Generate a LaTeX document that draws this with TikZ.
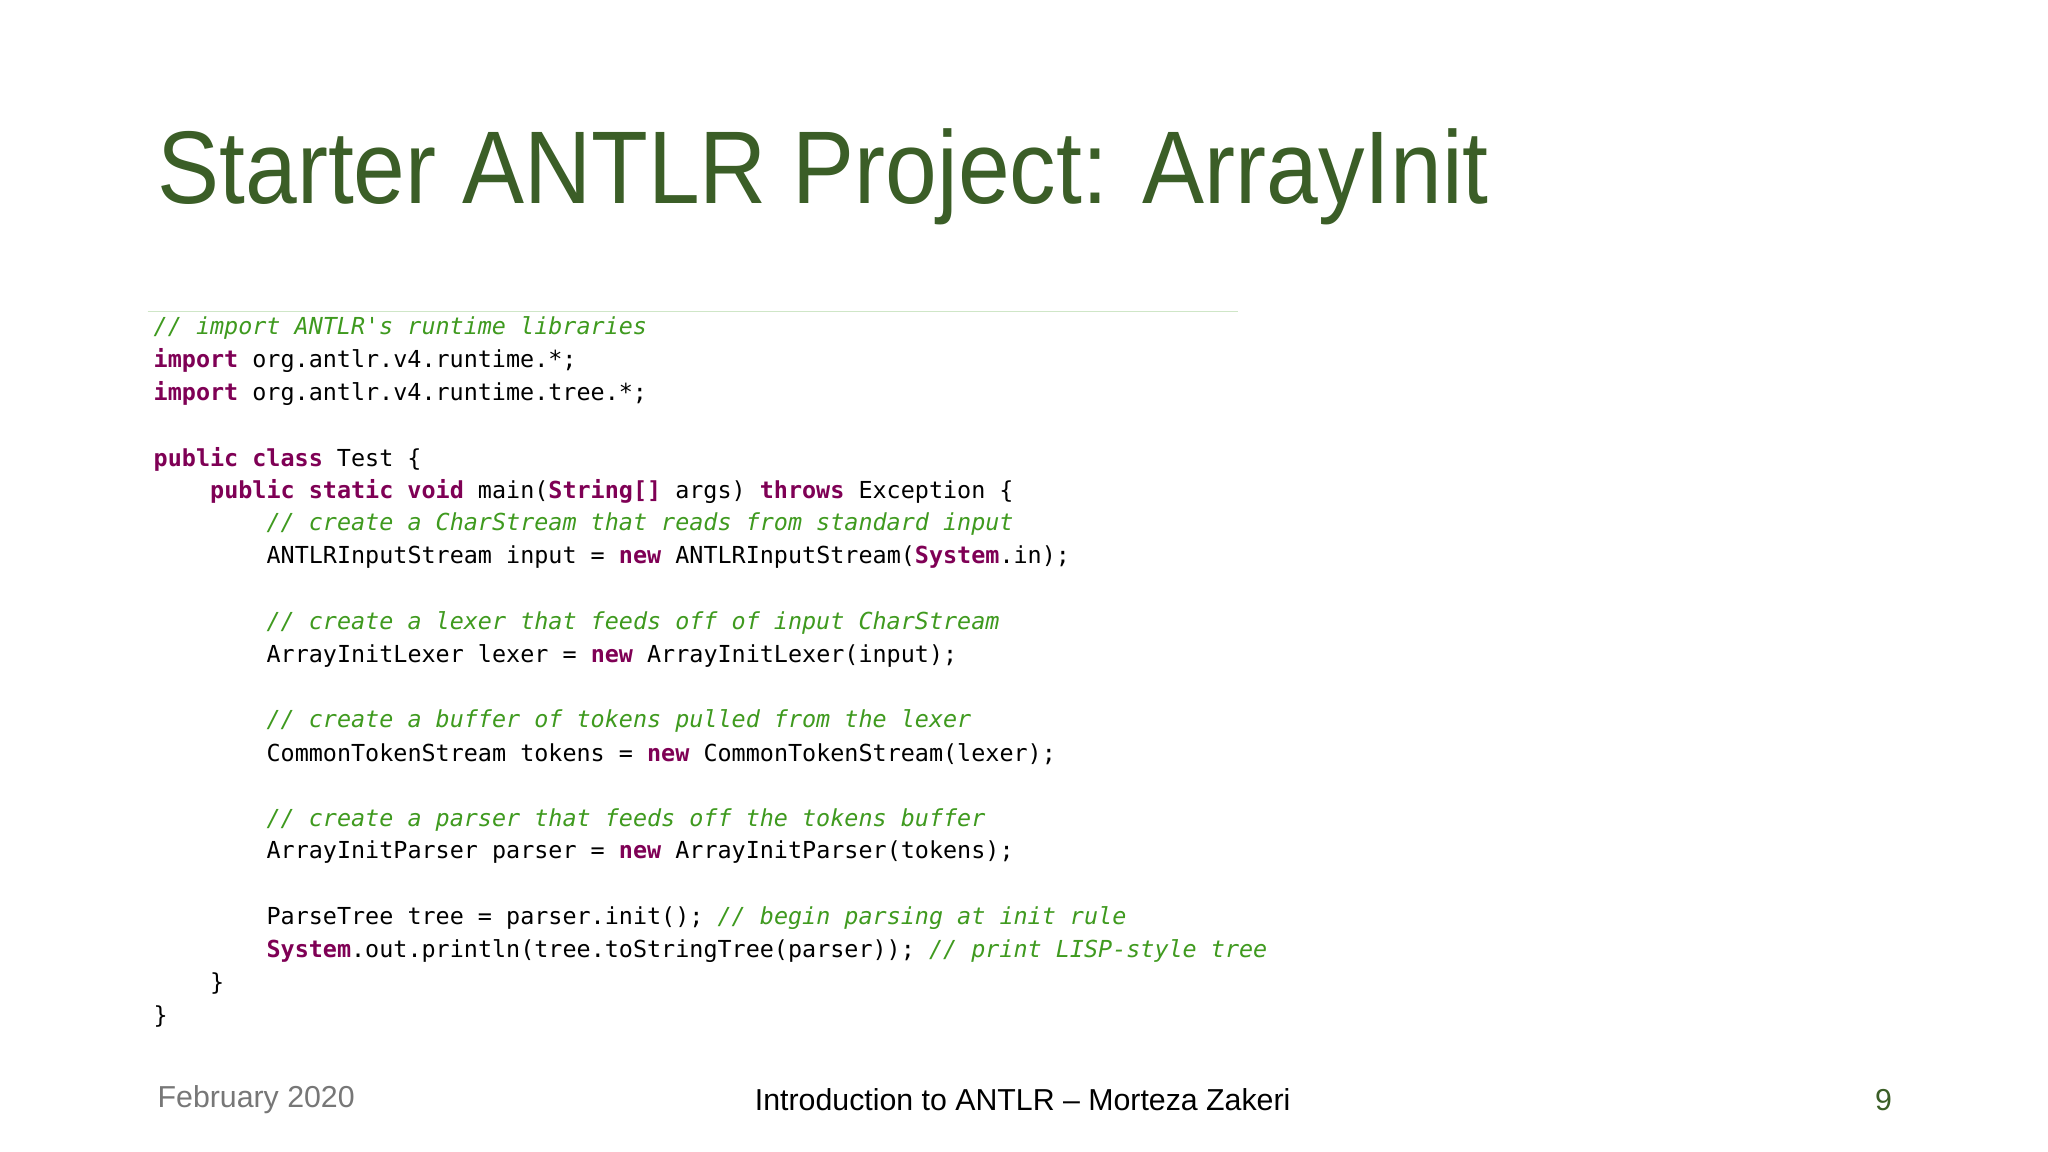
\documentclass[tikz,border=0pt]{standalone}
\usepackage{fontspec}
\setmainfont{Liberation Sans}
\setmonofont{DejaVu Sans Mono}
\definecolor{ttl}{HTML}{3B5E27}
\definecolor{kwc}{HTML}{7F0055}
\definecolor{cmc}{HTML}{3F9A1F}
\definecolor{ftg}{HTML}{777777}
\newcommand{\kw}[1]{\textbf{\color{kwc}#1}}
\newcommand{\cm}[1]{\textit{\color{cmc}#1}}
\tikzset{codeln/.style={anchor=west,inner sep=0pt,font=\ttfamily\fontsize{5.1}{6}\selectfont},
foot/.style={inner sep=0pt,font=\fontsize{6.6}{8}\selectfont}}
\begin{document}
\begin{tikzpicture}[x=1mm,y=-1mm]
\useasboundingbox (0,0) rectangle (156.8,88.2);
\fill[white] (0,0) rectangle (156.8,88.2);
\node[anchor=base west,inner sep=0pt,text=ttl,font=\fontsize{22.5}{28}\selectfont] (title) at (12,15.6) {\scalebox{0.9}[1]{Starter ANTLR Project: ArrayInit}};
\draw[line width=0.1pt,color=cmc!25] (11.3,23.8) -- (94.8,23.8);
\def\L#1#2#3{\node[codeln] (l#1) at (11.7+4.32*#2,25.1+2.51*#1) {#3};}
\L{0}{0}{\cm{// import ANTLR's runtime libraries}}
\L{1}{0}{\kw{import} org.antlr.v4.runtime.*;}
\L{2}{0}{\kw{import} org.antlr.v4.runtime.tree.*;}
\L{4}{0}{\kw{public} \kw{class} Test \{}
\L{5}{1}{\kw{public} \kw{static} \kw{void} main(\kw{String[]} args) \kw{throws} Exception \{}
\L{6}{2}{\cm{// create a CharStream that reads from standard input}}
\L{7}{2}{ANTLRInputStream input = \kw{new} ANTLRInputStream(\kw{System}.in);}
\L{9}{2}{\cm{// create a lexer that feeds off of input CharStream}}
\L{10}{2}{ArrayInitLexer lexer = \kw{new} ArrayInitLexer(input);}
\L{12}{2}{\cm{// create a buffer of tokens pulled from the lexer}}
\L{13}{2}{CommonTokenStream tokens = \kw{new} CommonTokenStream(lexer);}
\L{15}{2}{\cm{// create a parser that feeds off the tokens buffer}}
\L{16}{2}{ArrayInitParser parser = \kw{new} ArrayInitParser(tokens);}
\L{18}{2}{ParseTree tree = parser.init(); \cm{// begin parsing at init rule}}
\L{19}{2}{\kw{System}.out.println(tree.toStringTree(parser)); \cm{// print LISP-style tree}}
\L{20}{1}{\}}
\L{21}{0}{\}}
\node[foot,anchor=west,text=ftg] (date) at (12,84.2) {February 2020};
\node[foot,text=black] (ftr) at (78.3,84.2) {Introduction to ANTLR – Morteza Zakeri};
\node[foot,text=ttl] (pg) at (144.2,84.2) {9};
\end{tikzpicture}
\end{document}
